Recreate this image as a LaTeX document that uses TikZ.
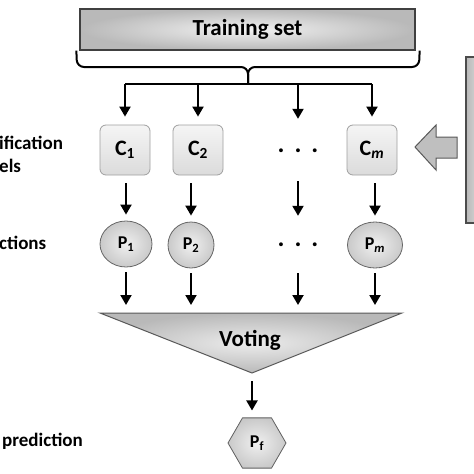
\documentclass[tikz,border=0pt]{standalone}
\usepackage{fontspec}
\setmainfont{Carlito}
\usepackage{tikz}
\usetikzlibrary{arrows.meta,shapes.geometric}

\begin{document}
\begin{tikzpicture}[x=1pt,y=-1pt,
		arr/.style={-{Triangle[length=10pt,width=11pt]},line width=2pt},
		model/.style={draw=gray!75,line width=0.8pt,rounded corners=6pt,minimum width=50pt,minimum height=50pt,top color=gray!8,bottom color=gray!28,font=\fontsize{22}{24}\selectfont\bfseries},
		pred/.style={ellipse,draw=gray!80!black,line width=0.8pt,minimum width=52pt,minimum height=46pt,inner sep=0pt,inner color=gray!12,outer color=gray!42,font=\fontsize{18}{20}\selectfont\bfseries},
		dotbox/.style={minimum width=50pt,minimum height=46pt,font=\fontsize{26}{28}\selectfont\bfseries},
		side/.style={anchor=base west,inner sep=0pt,font=\fontsize{19}{22}\selectfont\bfseries}]
	\useasboundingbox (0,0) rectangle (474,474);
	\clip (0,0) rectangle (474,474);
	% training set and brace
	\node[draw=black!75,line width=1.3pt,minimum width=335pt,minimum height=41pt,inner color=gray!10,outer color=gray!55,font=\fontsize{23}{26}\selectfont\bfseries] (train) at (247.5,29.5) {Training set};
	\draw[line width=2pt,rounded corners=7pt] ([xshift=-3pt]train.south west) -- (77,67) -- (248,67) -- (248,84);
	\draw[line width=2pt,rounded corners=7pt] ([xshift=4pt]train.south east) -- (419,67) -- (248,67) -- (248,84);
	\coordinate (split) at (248,84);
	% models
	\node[model] (c1) at (125,150) {C\textsubscript{1}};
	\node[model] (c2) at (198,150) {C\textsubscript{2}};
	\node[dotbox] (cd) at (298,150) {\raisebox{-5pt}{.\hspace{10pt}.\hspace{10pt}.}};
	\node[model] (cm) at (372,150) {C\textsubscript{\itshape m}};
	\draw[line width=2pt] (c1 |- split) -- (cm |- split);
	\foreach \n in {c1,c2,cd,cm}
		\draw[arr,shorten >=8pt] (\n |- split) -- (\n.north);
	% predictions
	\node[pred] (p1) at (126,244) {P\textsubscript{1}};
	\node[pred,minimum width=46pt] (p2) at (191,245) {P\textsubscript{2}};
	\node[dotbox] (pd) at (298,245) {.\hspace{10pt}.\hspace{10pt}.};
	\node[pred,minimum width=55pt] (pm) at (375,245) {P\textsubscript{\itshape m}};
	\foreach \n/\m in {c1/p1,c2/p2,cd/pd,cm/pm}
		\draw[arr,shorten <=8pt,shorten >=6pt] (\m |- \n.south) -- (\m.north);
	% voting
	\coordinate (vl) at (100,313);
	\coordinate (vr) at (402,313);
	\coordinate (va) at (252,373);
	\draw[draw=gray!70!black,line width=1pt,inner color=gray!15,outer color=gray!55] (vl) -- (vr) -- (va) -- cycle;
	\node[font=\fontsize{23}{26}\selectfont\bfseries] (vote) at (250,340) {Voting};
	\foreach \m in {p1,p2,pd,pm}
		\draw[arr,shorten <=5pt,shorten >=8pt] (\m.south) -- (\m |- vl);
	% final prediction
	\node[regular polygon,regular polygon sides=6,minimum size=58pt,inner sep=0pt,draw=gray!75!black,line width=0.8pt,inner color=gray!12,outer color=gray!42,font=\fontsize{18}{20}\selectfont\bfseries] (pf) at (257,443) {P\textsubscript{f}};
	\draw[arr,shorten <=8pt,shorten >=7pt] (va) -- (va |- pf.north);
	% labels on the left
	\node[side] (lmod) at (-1,149) {ification};
	\node[side] (lmod2) at (-1,172) {els};
	\node[side] (lpred) at (-1,249) {ctions};
	\node[side] (lfin) at (2,446) {prediction};
	% right side
	\draw[draw=gray!70!black,line width=1pt,fill=gray!50] (415,147) -- (436,125) -- (436,137) -- (457,137) -- (457,158) -- (436,158) -- (436,170) -- cycle;
	\draw[draw=black!70,line width=1.3pt,left color=gray!55,right color=gray!12] (466,57) rectangle (490,223);
\end{tikzpicture}
\end{document}
